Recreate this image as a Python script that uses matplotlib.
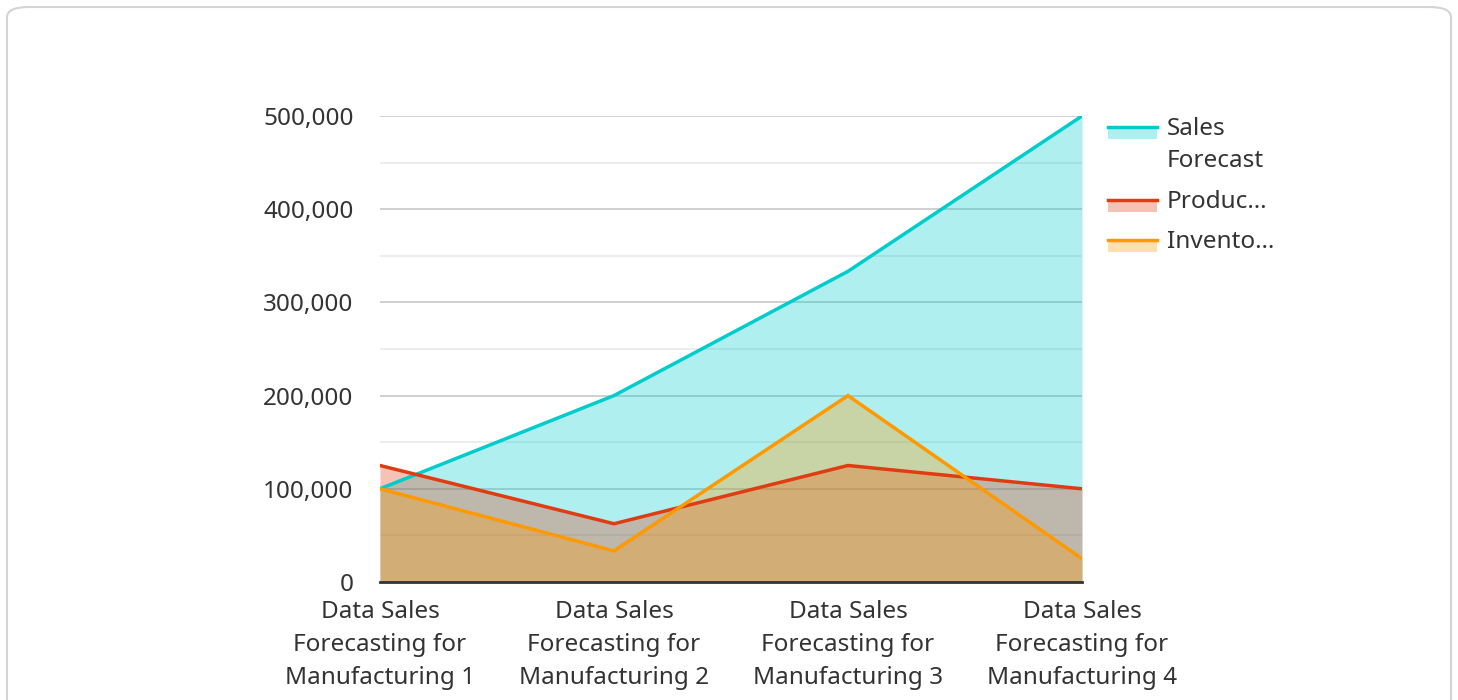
import matplotlib
matplotlib.use('Agg')
import matplotlib.pyplot as plt
from matplotlib.patches import FancyBboxPatch, Rectangle
from matplotlib.lines import Line2D
from matplotlib.ticker import FuncFormatter, MultipleLocator

plt.rcParams['font.family'] = ['Noto Sans', 'DejaVu Sans']

categories = ['Data Sales\nForecasting for\nManufacturing 1',
              'Data Sales\nForecasting for\nManufacturing 2',
              'Data Sales\nForecasting for\nManufacturing 3',
              'Data Sales\nForecasting for\nManufacturing 4']
sales_forecast = [100000, 200000, 333333, 500000]
production = [125000, 62500, 125000, 100000]
inventory = [100000, 33333, 200000, 25000]

series_names = ['Sales\nForecast', 'Produc…', 'Invento…']
series_values = [sales_forecast, production, inventory]
colors = ['#00cccc', '#e03c14', '#ff9900']

text_color = '#333333'
fs = 17.5

fig = plt.figure(figsize=(14.58, 7), dpi=100)
ax = fig.add_axes([0.2606, 0.1686, 0.4815, 0.6657])

x = list(range(len(categories)))
for vals, c in zip(series_values, colors):
    ax.fill_between(x, 0, vals, color=c, alpha=0.31, lw=0, zorder=2)
for vals, c in zip(series_values, colors):
    ax.plot(x, vals, color=c, lw=2.5, zorder=3, solid_joinstyle='miter')

ax.set_xlim(0, 3)
ax.set_ylim(0, 500000)
ax.yaxis.set_major_locator(MultipleLocator(100000))
ax.yaxis.set_minor_locator(MultipleLocator(50000))
ax.yaxis.set_major_formatter(FuncFormatter(lambda v, p: f'{int(v):,}'))
ax.set_axisbelow(True)
ax.grid(axis='y', which='major', color='#c4c4c4', lw=1.1, zorder=0)
ax.grid(axis='y', which='minor', color='#e8e8e8', lw=1.1, zorder=0)

ax.set_xticks(x)
ax.set_xticklabels(categories, linespacing=1.5)
for s in ['top', 'right', 'left']:
    ax.spines[s].set_visible(False)
ax.spines['bottom'].set_color('#333333')
ax.spines['bottom'].set_linewidth(2)
ax.spines['bottom'].set_zorder(4)
ax.tick_params(axis='both', which='both', length=0, labelsize=fs, colors=text_color)
ax.tick_params(axis='y', pad=19)
ax.tick_params(axis='x', pad=13)

# legend drawn by hand: line on top of a light swatch
legend_y = [127, 200, 240]
for name, c, ly in zip(series_names, colors, legend_y):
    y0 = 1 - ly / 700
    fig.add_artist(Rectangle((1108 / 1458, y0 - 12 / 700), 49 / 1458, 12 / 700,
                             transform=fig.transFigure, facecolor=c, alpha=0.31, lw=0))
    fig.add_artist(Line2D([1108 / 1458, 1157 / 1458], [y0, y0], transform=fig.transFigure,
                          color=c, lw=2.5))
    fig.text(1167 / 1458, y0 + 10 / 700, name, ha='left', va='top', fontsize=fs,
             color=text_color, linespacing=1.45)

# card border
fig.add_artist(FancyBboxPatch((7 / 1458, -0.05), 1444 / 1458, 1.04,
                              boxstyle='round,pad=0,rounding_size=0.015',
                              transform=fig.transFigure, facecolor='none',
                              edgecolor='#d4d4d4', lw=1.5))

fig.savefig('out.png', dpi=100)
